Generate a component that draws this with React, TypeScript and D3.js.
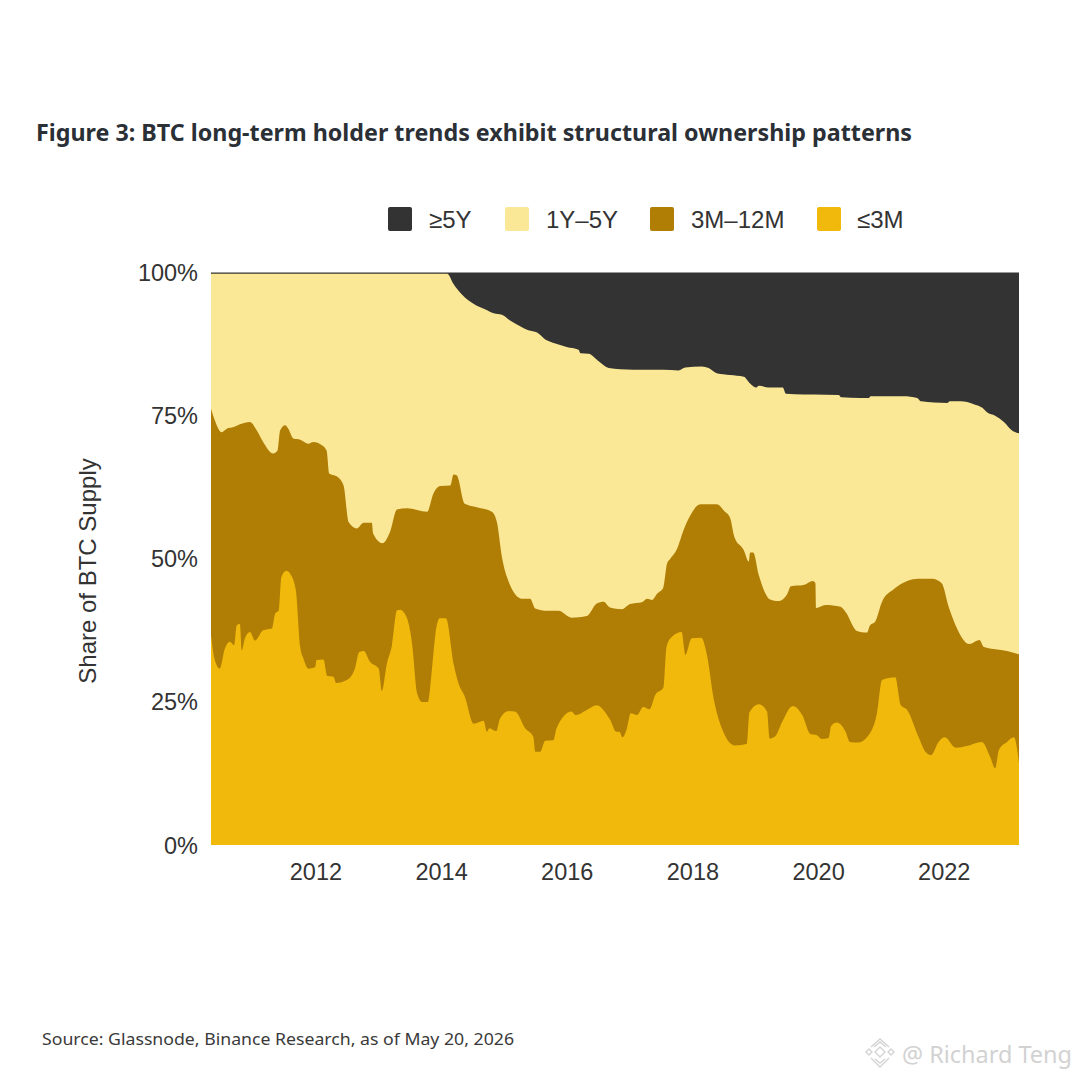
import React from "react";
import * as d3 from "d3";

const xTickYears = [2012, 2014, 2016, 2018, 2020, 2022];
const yTicks = [0, 25, 50, 75, 100];
const legendLabels = ["≥5Y", "1Y–5Y", "3M–12M", "≤3M"];
const legendColors = ["#333333", "#FBE897", "#B07D05", "#F0B90B"];

// Cumulative share (top edge of each band).
const allYears = [2010.33, 2023.19];
const allTop = [100, 100];

const longYears = [2010.33, 2014.09, 2014.19, 2014.32, 2014.43, 2014.56, 2014.69, 2014.83, 2014.96, 2015.09, 2015.25, 2015.38, 2015.52, 2015.65, 2015.81, 2015.99, 2016.18, 2016.21, 2016.34, 2016.5, 2016.66, 2016.84, 2017.27, 2017.53, 2017.77, 2017.88, 2018.14, 2018.25, 2018.38, 2018.59, 2018.81, 2018.91, 2019.01, 2019.05, 2019.23, 2019.43, 2019.48, 2019.76, 2019.92, 2020.32, 2020.36, 2020.66, 2020.8, 2020.83, 2021.35, 2021.57, 2021.63, 2022.05, 2022.09, 2022.26, 2022.47, 2022.6, 2022.68, 2022.81, 2022.95, 2023.08, 2023.19];
const longTop = [99.8, 99.8, 98.0, 96.2, 95.1, 94.2, 93.6, 92.9, 92.6, 91.6, 90.6, 89.9, 89.5, 88.3, 87.6, 87.0, 86.5, 85.9, 85.8, 84.5, 83.3, 83.1, 83.0, 83.0, 82.9, 83.4, 83.6, 83.3, 82.4, 82.1, 81.8, 80.6, 79.9, 80.2, 79.9, 79.9, 78.8, 78.7, 78.7, 78.6, 78.2, 78.1, 78.1, 78.4, 78.4, 78.1, 77.5, 77.2, 77.5, 77.5, 77.0, 76.4, 75.6, 75.0, 73.9, 72.4, 71.9];

const midYears = [2010.33, 2010.39, 2010.5, 2010.58, 2010.69, 2010.79, 2010.95, 2011.06, 2011.16, 2011.32, 2011.39, 2011.43, 2011.51, 2011.56, 2011.64, 2011.75, 2011.88, 2011.96, 2012.07, 2012.17, 2012.21, 2012.33, 2012.44, 2012.52, 2012.65, 2012.76, 2012.89, 2012.91, 2013.06, 2013.18, 2013.29, 2013.45, 2013.77, 2013.87, 2013.98, 2014.14, 2014.19, 2014.24, 2014.37, 2014.56, 2014.8, 2014.88, 2014.96, 2015.04, 2015.28, 2015.41, 2015.49, 2015.68, 2015.86, 2016.07, 2016.31, 2016.47, 2016.58, 2016.68, 2016.87, 2017.0, 2017.19, 2017.27, 2017.35, 2017.43, 2017.53, 2017.59, 2017.64, 2017.75, 2017.85, 2017.96, 2018.12, 2018.38, 2018.51, 2018.59, 2018.66, 2018.81, 2018.89, 2018.91, 2018.96, 2019.05, 2019.23, 2019.36, 2019.5, 2019.56, 2019.76, 2019.91, 2019.95, 2019.96, 2020.11, 2020.35, 2020.43, 2020.61, 2020.77, 2020.82, 2020.9, 2021.01, 2021.2, 2021.41, 2021.59, 2021.81, 2021.96, 2022.07, 2022.18, 2022.4, 2022.56, 2022.63, 2023.0, 2023.19];
const midTop = [76.2, 74.2, 72.1, 72.7, 73.0, 73.5, 73.9, 72.4, 70.4, 68.4, 68.9, 72.4, 73.3, 72.7, 71.0, 70.8, 70.1, 70.4, 70.0, 68.9, 64.9, 64.4, 62.8, 56.4, 55.3, 56.3, 56.3, 54.4, 52.7, 54.7, 58.6, 58.8, 58.2, 61.4, 62.7, 62.8, 64.7, 64.6, 59.6, 59.0, 58.2, 56.4, 50.3, 46.8, 43.0, 43.0, 41.3, 40.9, 40.9, 39.7, 40.0, 42.2, 42.5, 41.5, 41.2, 42.1, 42.4, 43.0, 42.8, 43.9, 45.0, 49.2, 50.0, 51.8, 55.0, 57.6, 59.5, 59.5, 58.2, 57.2, 53.8, 51.5, 49.5, 51.1, 51.1, 47.1, 42.9, 42.6, 43.8, 45.2, 45.4, 46.1, 45.7, 41.4, 41.9, 41.6, 40.7, 37.4, 37.1, 38.4, 39.0, 42.5, 44.7, 46.1, 46.5, 46.5, 45.7, 41.6, 38.4, 35.1, 35.8, 34.6, 33.9, 33.3];

const shortYears = [2010.33, 2010.39, 2010.47, 2010.55, 2010.63, 2010.7, 2010.74, 2010.79, 2010.82, 2010.87, 2010.95, 2011.03, 2011.16, 2011.3, 2011.35, 2011.41, 2011.45, 2011.53, 2011.59, 2011.68, 2011.75, 2011.8, 2011.88, 2011.99, 2012.01, 2012.12, 2012.18, 2012.28, 2012.32, 2012.49, 2012.62, 2012.69, 2012.76, 2012.86, 2013.0, 2013.05, 2013.13, 2013.21, 2013.29, 2013.34, 2013.45, 2013.53, 2013.61, 2013.69, 2013.78, 2013.85, 2013.9, 2013.97, 2014.07, 2014.19, 2014.27, 2014.37, 2014.51, 2014.67, 2014.72, 2014.76, 2014.87, 2014.93, 2015.07, 2015.17, 2015.33, 2015.46, 2015.49, 2015.57, 2015.65, 2015.78, 2015.83, 2016.07, 2016.13, 2016.31, 2016.47, 2016.55, 2016.68, 2016.78, 2016.83, 2016.88, 2016.95, 2017.01, 2017.11, 2017.21, 2017.31, 2017.4, 2017.53, 2017.58, 2017.67, 2017.82, 2017.88, 2017.98, 2018.13, 2018.22, 2018.33, 2018.46, 2018.67, 2018.86, 2018.9, 2019.05, 2019.18, 2019.22, 2019.31, 2019.42, 2019.59, 2019.74, 2019.87, 2019.97, 2020.05, 2020.16, 2020.2, 2020.29, 2020.43, 2020.5, 2020.64, 2020.77, 2020.93, 2021.01, 2021.22, 2021.31, 2021.41, 2021.59, 2021.7, 2021.79, 2021.91, 2022.01, 2022.18, 2022.36, 2022.6, 2022.73, 2022.81, 2022.87, 2023.0, 2023.11, 2023.19];
const shortTop = [36.7, 32.3, 30.8, 34.3, 35.5, 34.9, 38.4, 38.6, 34.0, 36.1, 37.2, 35.7, 37.5, 37.8, 40.4, 41.0, 46.8, 47.9, 47.4, 44.5, 34.6, 32.6, 30.8, 31.1, 32.3, 32.4, 29.5, 29.4, 28.3, 28.8, 30.8, 33.7, 33.9, 32.0, 30.8, 26.9, 31.7, 34.9, 41.0, 41.1, 39.6, 35.2, 26.5, 25.0, 25.0, 31.1, 36.7, 39.6, 39.6, 31.7, 28.2, 25.9, 21.2, 21.7, 19.8, 20.4, 19.9, 22.1, 23.4, 23.3, 20.4, 18.9, 16.3, 16.3, 18.2, 18.3, 20.4, 23.3, 22.7, 23.6, 24.4, 23.9, 21.9, 19.8, 19.8, 18.8, 20.4, 23.0, 22.7, 24.1, 23.7, 26.2, 27.5, 34.6, 36.4, 37.2, 33.2, 36.1, 36.2, 33.4, 25.6, 20.4, 17.4, 17.7, 23.2, 24.6, 23.3, 18.6, 19.0, 21.5, 24.3, 22.7, 19.4, 19.2, 18.5, 18.7, 20.8, 21.4, 19.8, 18.0, 17.9, 18.8, 23.0, 28.8, 29.3, 24.4, 23.6, 18.9, 16.3, 15.7, 18.0, 18.8, 17.0, 17.3, 18.0, 15.4, 13.4, 16.6, 18.0, 18.8, 14.3];

const LEFT = 211;
const RIGHT = 1019;
const TOP = 272.5;
const BOTTOM = 845;

const x = d3.scaleLinear().domain([2010.33, 2023.19]).range([LEFT, RIGHT]);
const y = d3.scaleLinear().domain([0, 100]).range([BOTTOM, TOP]);

const layers = [
  { years: allYears, tops: allTop, color: legendColors[0] },
  { years: longYears, tops: longTop, color: legendColors[1] },
  { years: midYears, tops: midTop, color: legendColors[2] },
  { years: shortYears, tops: shortTop, color: legendColors[3] },
];

function bandPath(years: number[], tops: number[]) {
  const pts = years.map((yr, i) => [yr, tops[i]] as [number, number]);
  return d3
    .area<[number, number]>()
    .curve(d3.curveMonotoneX)
    .x((d) => x(d[0]))
    .y0(y(0))
    .y1((d) => y(d[1]))(pts) as string;
}

const legendX = [388, 505, 650, 817];
const legendTextX = [429, 546, 691, 857];
const axisFont = "'Liberation Sans', Arial, sans-serif";
const textFont = "'Noto Sans', sans-serif";

export default function App() {
  return (
    <svg
      width={1080}
      height={1080}
      style={{ position: "absolute", left: 0, top: 0, background: "#fff" }}
    >
      <rect width={1080} height={1080} fill="#fff" />
      <text
        x={36}
        y={141}
        fontFamily={textFont}
        fontWeight={700}
        fontSize={22.5}
        fill="#2b2f36"
        textLength={876}
        lengthAdjust="spacingAndGlyphs"
      >
        Figure 3: BTC long-term holder trends exhibit structural ownership patterns
      </text>

      {legendLabels.map((label, i) => (
        <g key={label}>
          <rect x={legendX[i]} y={207} width={24} height={24} rx={2} fill={legendColors[i]} />
          <text x={legendTextX[i]} y={227.5} fontFamily={axisFont} fontSize={24} fill="#333">
            {label}
          </text>
        </g>
      ))}

      {layers.map((l) => (
        <path key={l.color} d={bandPath(l.years, l.tops)} fill={l.color} />
      ))}

      {yTicks.map((t) => (
        <text
          key={t}
          x={198}
          y={y(t) + 8.5}
          textAnchor="end"
          fontFamily={axisFont}
          fontSize={23.5}
          fill="#333"
        >
          {t}%
        </text>
      ))}
      {xTickYears.map((t) => (
        <text
          key={t}
          x={x(t)}
          y={880}
          textAnchor="middle"
          fontFamily={axisFont}
          fontSize={23.5}
          fill="#333"
        >
          {t}
        </text>
      ))}
      <text
        transform="translate(96,571) rotate(-90)"
        textAnchor="middle"
        fontFamily={axisFont}
        fontSize={24}
        fill="#333"
      >
        Share of BTC Supply
      </text>

      <text
        x={42}
        y={1045}
        fontFamily={textFont}
        fontSize={17}
        fill="#3a3a3a"
        textLength={472}
        lengthAdjust="spacingAndGlyphs"
      >
        Source: Glassnode, Binance Research, as of May 20, 2026
      </text>

      <g fill="none" stroke="#d4d4d4" strokeWidth={1.4}>
        <path d="M880 1047 l5 5 l-5 5 l-5 -5 z" />
        <path d="M869 1049 l3 3 l-3 3 l-3 -3 z" />
        <path d="M891 1049 l3 3 l-3 3 l-3 -3 z" />
        <path d="M871 1047 l9 -8 l9 8 M874 1047 l6 -5 l6 5" />
        <path d="M871 1058 l9 9 l9 -9 M875 1059 l5 4 l5 -4" />
      </g>
      <text
        x={902}
        y={1063}
        fontFamily={textFont}
        fontSize={24}
        fill="#d2d2d2"
        textLength={170}
        lengthAdjust="spacingAndGlyphs"
      >
        @ Richard Teng
      </text>
    </svg>
  );
}
